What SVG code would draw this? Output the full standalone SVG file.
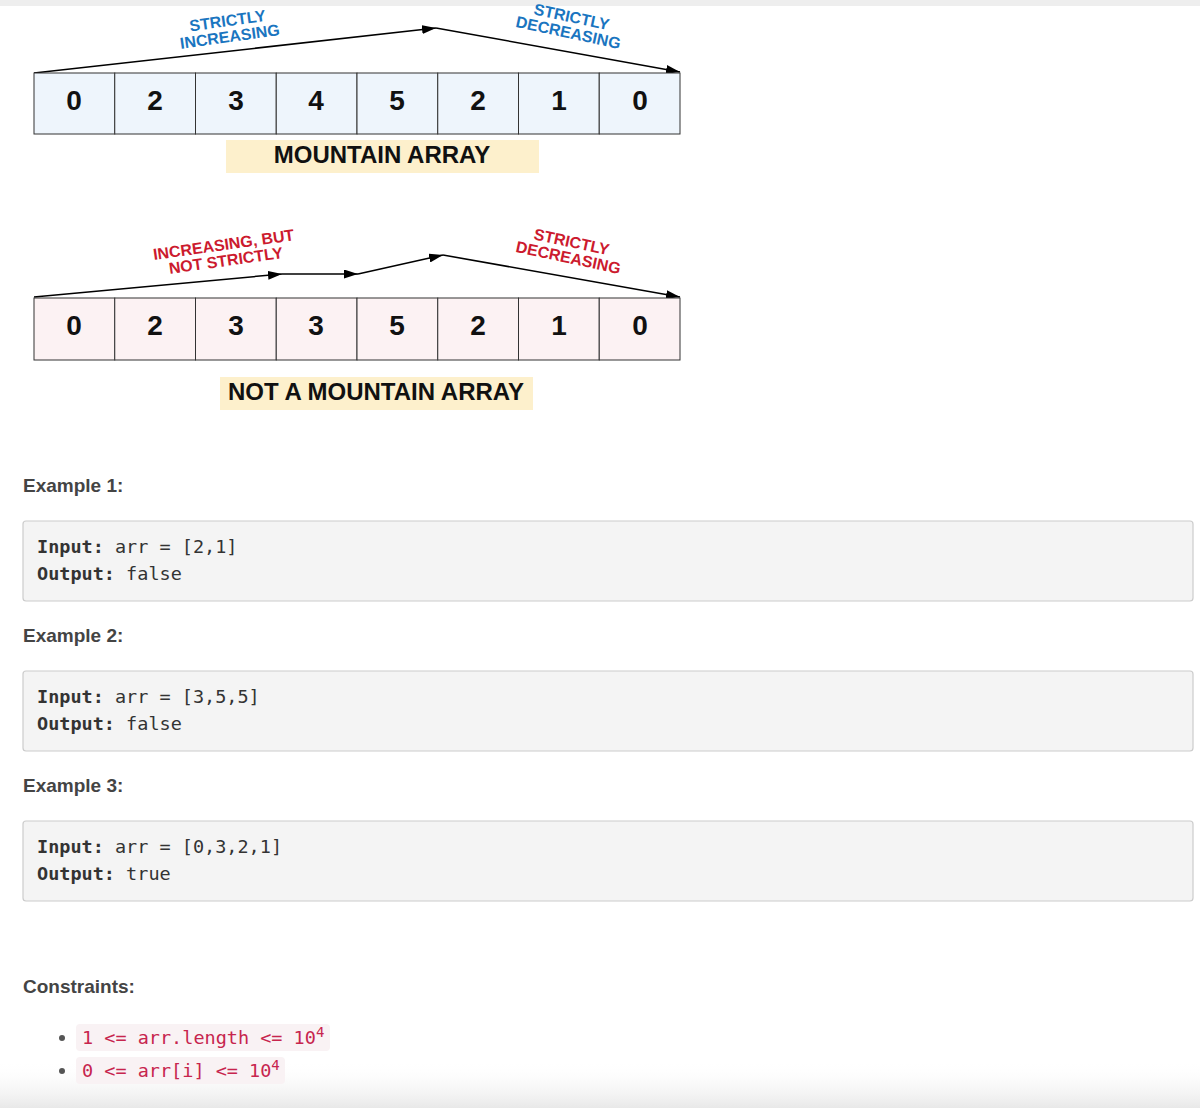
<svg xmlns="http://www.w3.org/2000/svg" width="1200" height="1108" viewBox="0 0 1200 1108">
<defs>
<marker id="ah" markerWidth="14" markerHeight="9" refX="14" refY="4.5" orient="auto" markerUnits="userSpaceOnUse"><path d="M0,0 L14,4.5 L0,9 z" fill="#000"/></marker>
<linearGradient id="fade" x1="0" y1="0" x2="0" y2="1"><stop offset="0" stop-color="#fff" stop-opacity="0"/><stop offset="1" stop-color="#e8e8e8"/></linearGradient>
</defs>
<style>
.cb{fill:#eef5fc;stroke:#333;stroke-width:1}
.cr{fill:#fcf2f3;stroke:#333;stroke-width:1}
.num{font-family:"Liberation Sans",Arial,sans-serif;font-weight:bold;font-size:28px;text-anchor:middle;fill:#111}
.hb{font-family:"Liberation Sans Narrow","Liberation Sans",sans-serif;font-size:16px;fill:#1a75c0;text-anchor:middle;font-weight:bold}
.hr{font-family:"Liberation Sans Narrow","Liberation Sans",sans-serif;font-size:16px;fill:#cc1a2e;text-anchor:middle;font-weight:bold}
.lab{font-family:"Liberation Sans Narrow","Liberation Sans",sans-serif;font-size:24px;text-anchor:middle;fill:#111;font-weight:bold}
.arr{stroke:#000;stroke-width:1.5;fill:none;marker-end:url(#ah)}
.h{font-family:"Liberation Sans",Arial,sans-serif;font-weight:bold;font-size:19px;fill:#444}
.box{fill:#f4f4f4;stroke:#ccc;stroke-width:1.2}
.mono{font-family:"DejaVu Sans Mono","Liberation Mono",monospace;font-size:18.5px;fill:#333}
.monob{font-weight:bold}
.code{font-family:"DejaVu Sans Mono","Liberation Mono",monospace;font-size:18.5px;fill:#c7254e}
</style>
<rect width="1200" height="1108" fill="#fff"/>
<rect x="0" y="0" width="1200" height="6" fill="#eee"/>
<rect x="0" y="1060" width="1200" height="48" fill="url(#fade)"/>

<g id="connectors">
<line class="arr" x1="34" y1="73" x2="436" y2="28"/>
<line class="arr" x1="436" y1="28" x2="680" y2="72"/>
<line class="arr" x1="34" y1="297" x2="282" y2="274"/>
<line class="arr" x1="282" y1="274" x2="358" y2="274"/>
<line class="arr" x1="358" y1="274" x2="443" y2="255"/>
<line class="arr" x1="443" y1="255" x2="680" y2="297"/>
</g>

<g id="array1">
<rect class="cb" x="34" y="73" width="80.75" height="61"/>
<rect class="cb" x="114.75" y="73" width="80.75" height="61"/>
<rect class="cb" x="195.5" y="73" width="80.75" height="61"/>
<rect class="cb" x="276.25" y="73" width="80.75" height="61"/>
<rect class="cb" x="357" y="73" width="80.75" height="61"/>
<rect class="cb" x="437.75" y="73" width="80.75" height="61"/>
<rect class="cb" x="518.5" y="73" width="80.75" height="61"/>
<rect class="cb" x="599.25" y="73" width="80.75" height="61"/>
<text class="num" x="74" y="110">0</text><text class="num" x="155" y="110">2</text><text class="num" x="236" y="110">3</text><text class="num" x="316" y="110">4</text><text class="num" x="397" y="110">5</text><text class="num" x="478" y="110">2</text><text class="num" x="559" y="110">1</text><text class="num" x="640" y="110">0</text>
</g>
<g id="label-inc1"><text class="hb" transform="translate(230,38) rotate(-8)"><tspan x="0" y="-12">STRICTLY</tspan><tspan x="0" y="4">INCREASING</tspan></text></g>
<g id="label-dec1"><text class="hb" transform="translate(568,34) rotate(12)"><tspan x="0" y="-12">STRICTLY</tspan><tspan x="0" y="4">DECREASING</tspan></text></g>
<g id="label-mountain"><rect x="226" y="140" width="313" height="33" fill="#fdf0cc"/><text class="lab" x="382" y="163">MOUNTAIN ARRAY</text></g>

<g id="array2">
<rect class="cr" x="34" y="298" width="80.75" height="62"/>
<rect class="cr" x="114.75" y="298" width="80.75" height="62"/>
<rect class="cr" x="195.5" y="298" width="80.75" height="62"/>
<rect class="cr" x="276.25" y="298" width="80.75" height="62"/>
<rect class="cr" x="357" y="298" width="80.75" height="62"/>
<rect class="cr" x="437.75" y="298" width="80.75" height="62"/>
<rect class="cr" x="518.5" y="298" width="80.75" height="62"/>
<rect class="cr" x="599.25" y="298" width="80.75" height="62"/>
<text class="num" x="74" y="335">0</text><text class="num" x="155" y="335">2</text><text class="num" x="236" y="335">3</text><text class="num" x="316" y="335">3</text><text class="num" x="397" y="335">5</text><text class="num" x="478" y="335">2</text><text class="num" x="559" y="335">1</text><text class="num" x="640" y="335">0</text>
</g>
<g id="label-inc2"><text class="hr" transform="translate(226,262) rotate(-8)"><tspan x="0" y="-12">INCREASING, BUT</tspan><tspan x="0" y="4">NOT STRICTLY</tspan></text></g>
<g id="label-dec2"><text class="hr" transform="translate(568,259) rotate(12)"><tspan x="0" y="-12">STRICTLY</tspan><tspan x="0" y="4">DECREASING</tspan></text></g>
<g id="label-notmountain"><rect x="220" y="377" width="313" height="33" fill="#fdf0cc"/><text class="lab" x="376" y="400">NOT A MOUNTAIN ARRAY</text></g>

<g id="example1">
<text class="h" x="23" y="492">Example 1:</text>
<rect class="box" x="23" y="521" width="1170" height="80" rx="3"/>
<text class="mono" x="37" y="553"><tspan class="monob">Input:</tspan> arr = [2,1]</text>
<text class="mono" x="37" y="580"><tspan class="monob">Output:</tspan> false</text>
</g>
<g id="example2">
<text class="h" x="23" y="642">Example 2:</text>
<rect class="box" x="23" y="671" width="1170" height="80" rx="3"/>
<text class="mono" x="37" y="703"><tspan class="monob">Input:</tspan> arr = [3,5,5]</text>
<text class="mono" x="37" y="730"><tspan class="monob">Output:</tspan> false</text>
</g>
<g id="example3">
<text class="h" x="23" y="792">Example 3:</text>
<rect class="box" x="23" y="821" width="1170" height="80" rx="3"/>
<text class="mono" x="37" y="853"><tspan class="monob">Input:</tspan> arr = [0,3,2,1]</text>
<text class="mono" x="37" y="880"><tspan class="monob">Output:</tspan> true</text>
</g>
<g id="constraints">
<text class="h" x="23" y="993">Constraints:</text>
<circle cx="62" cy="1038" r="3" fill="#555"/>
<rect x="76" y="1024" width="254" height="27" rx="4" fill="#f9f2f4"/>
<text class="code" x="82" y="1044">1 &lt;= arr.length &lt;= 10<tspan font-size="14" dy="-7">4</tspan></text>
<circle cx="62" cy="1071" r="3" fill="#555"/>
<rect x="76" y="1057" width="209" height="27" rx="4" fill="#f9f2f4"/>
<text class="code" x="82" y="1077">0 &lt;= arr[i] &lt;= 10<tspan font-size="14" dy="-7">4</tspan></text>
</g>
</svg>
